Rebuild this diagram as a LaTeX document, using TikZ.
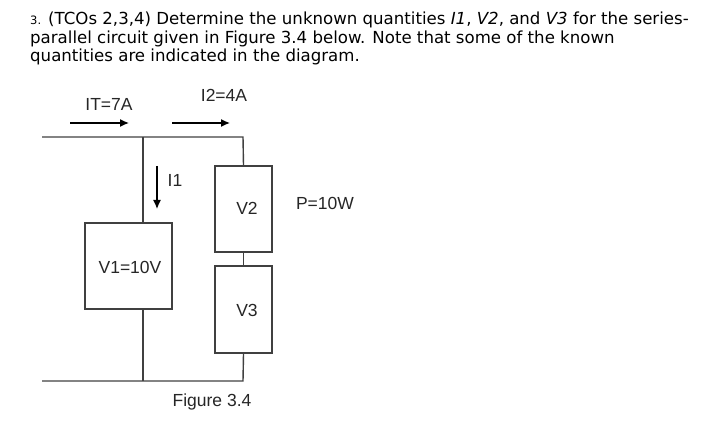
\documentclass[tikz,border=0pt]{standalone}
\usepackage{fontspec}
\usetikzlibrary{arrows.meta}
\setmainfont{DejaVu Sans}
\newfontfamily\arial{Liberation Sans}
\begin{document}
\begin{tikzpicture}[x=1pt,y=-1pt,
  wire/.style={line width=1.4pt,draw=black!75},
  comp/.style={draw=black!75,line width=1.4pt,fill=white,minimum width=57pt,inner sep=0pt},
  lbl/.style={font=\arial\fontsize{17.5}{17.5}\selectfont,inner sep=0pt,text=black!85},
  cur/.style={line width=1.3pt,-{Latex[length=9pt,width=8pt]}}]
\useasboundingbox (0,0) rectangle (723,430);
\node[anchor=north west,align=left,inner sep=0pt,font=\fontsize{16.6}{18.5}\selectfont] (hdr) at (30,12)
 {{\fontsize{11.5}{11.5}\selectfont 3.} (TCOs 2,3,4) Determine the unknown quantities \textit{I1}, \textit{V2}, and \textit{V3} for the series-\\
 parallel circuit given in Figure 3.4 below. Note that some of the known\\
 quantities are indicated in the diagram.};
\coordinate (tl) at (42,137); \coordinate (tm) at (143,137); \coordinate (tr) at (243,137);
\coordinate (bl) at (42,381); \coordinate (bm) at (143,381); \coordinate (br) at (243,381);
\node[comp,minimum width=87pt,minimum height=86pt] (v1) at (128.5,266) {};
\node[comp,minimum height=86pt] (v2) at (243.5,209) {};
\node[comp,minimum height=87pt] (v3) at (243.5,309.5) {};
\draw[wire] (tl) -- (tr) -- (v2.north);
\draw[wire] (v2.south) -- (v3.north);
\draw[wire] (v3.south) -- (br) -- (bl);
\draw[wire] (tm) -- (tm |- v1.north);
\draw[wire] (bm) -- (bm |- v1.south);
\node[lbl] (lv1) at (130,267) {V1=10V};
\node[lbl] (lv2) at (247,208) {V2};
\node[lbl] (lv3) at (247,310) {V3};
\node[lbl] (lp) at (325,203) {P=10W};
\node[lbl] (lfig) at (212,402) {Figure 3.4};
\node[lbl] (lit) at (109,104) {IT=7A};
\node[lbl] (li2) at (224,95) {I2=4A};
\node[lbl] (li1) at (175,180) {I1};
\coordinate (a1) at (70,123); \coordinate (a2) at (129,123);
\coordinate (b1) at (172,123); \coordinate (b2) at (230,123);
\coordinate (c1) at (157,166); \coordinate (c2) at (157,209);
\draw[cur] (a1) -- (a2);
\draw[cur] (b1) -- (b2);
\draw[cur] (c1) -- (c2);
\end{tikzpicture}
\end{document}
